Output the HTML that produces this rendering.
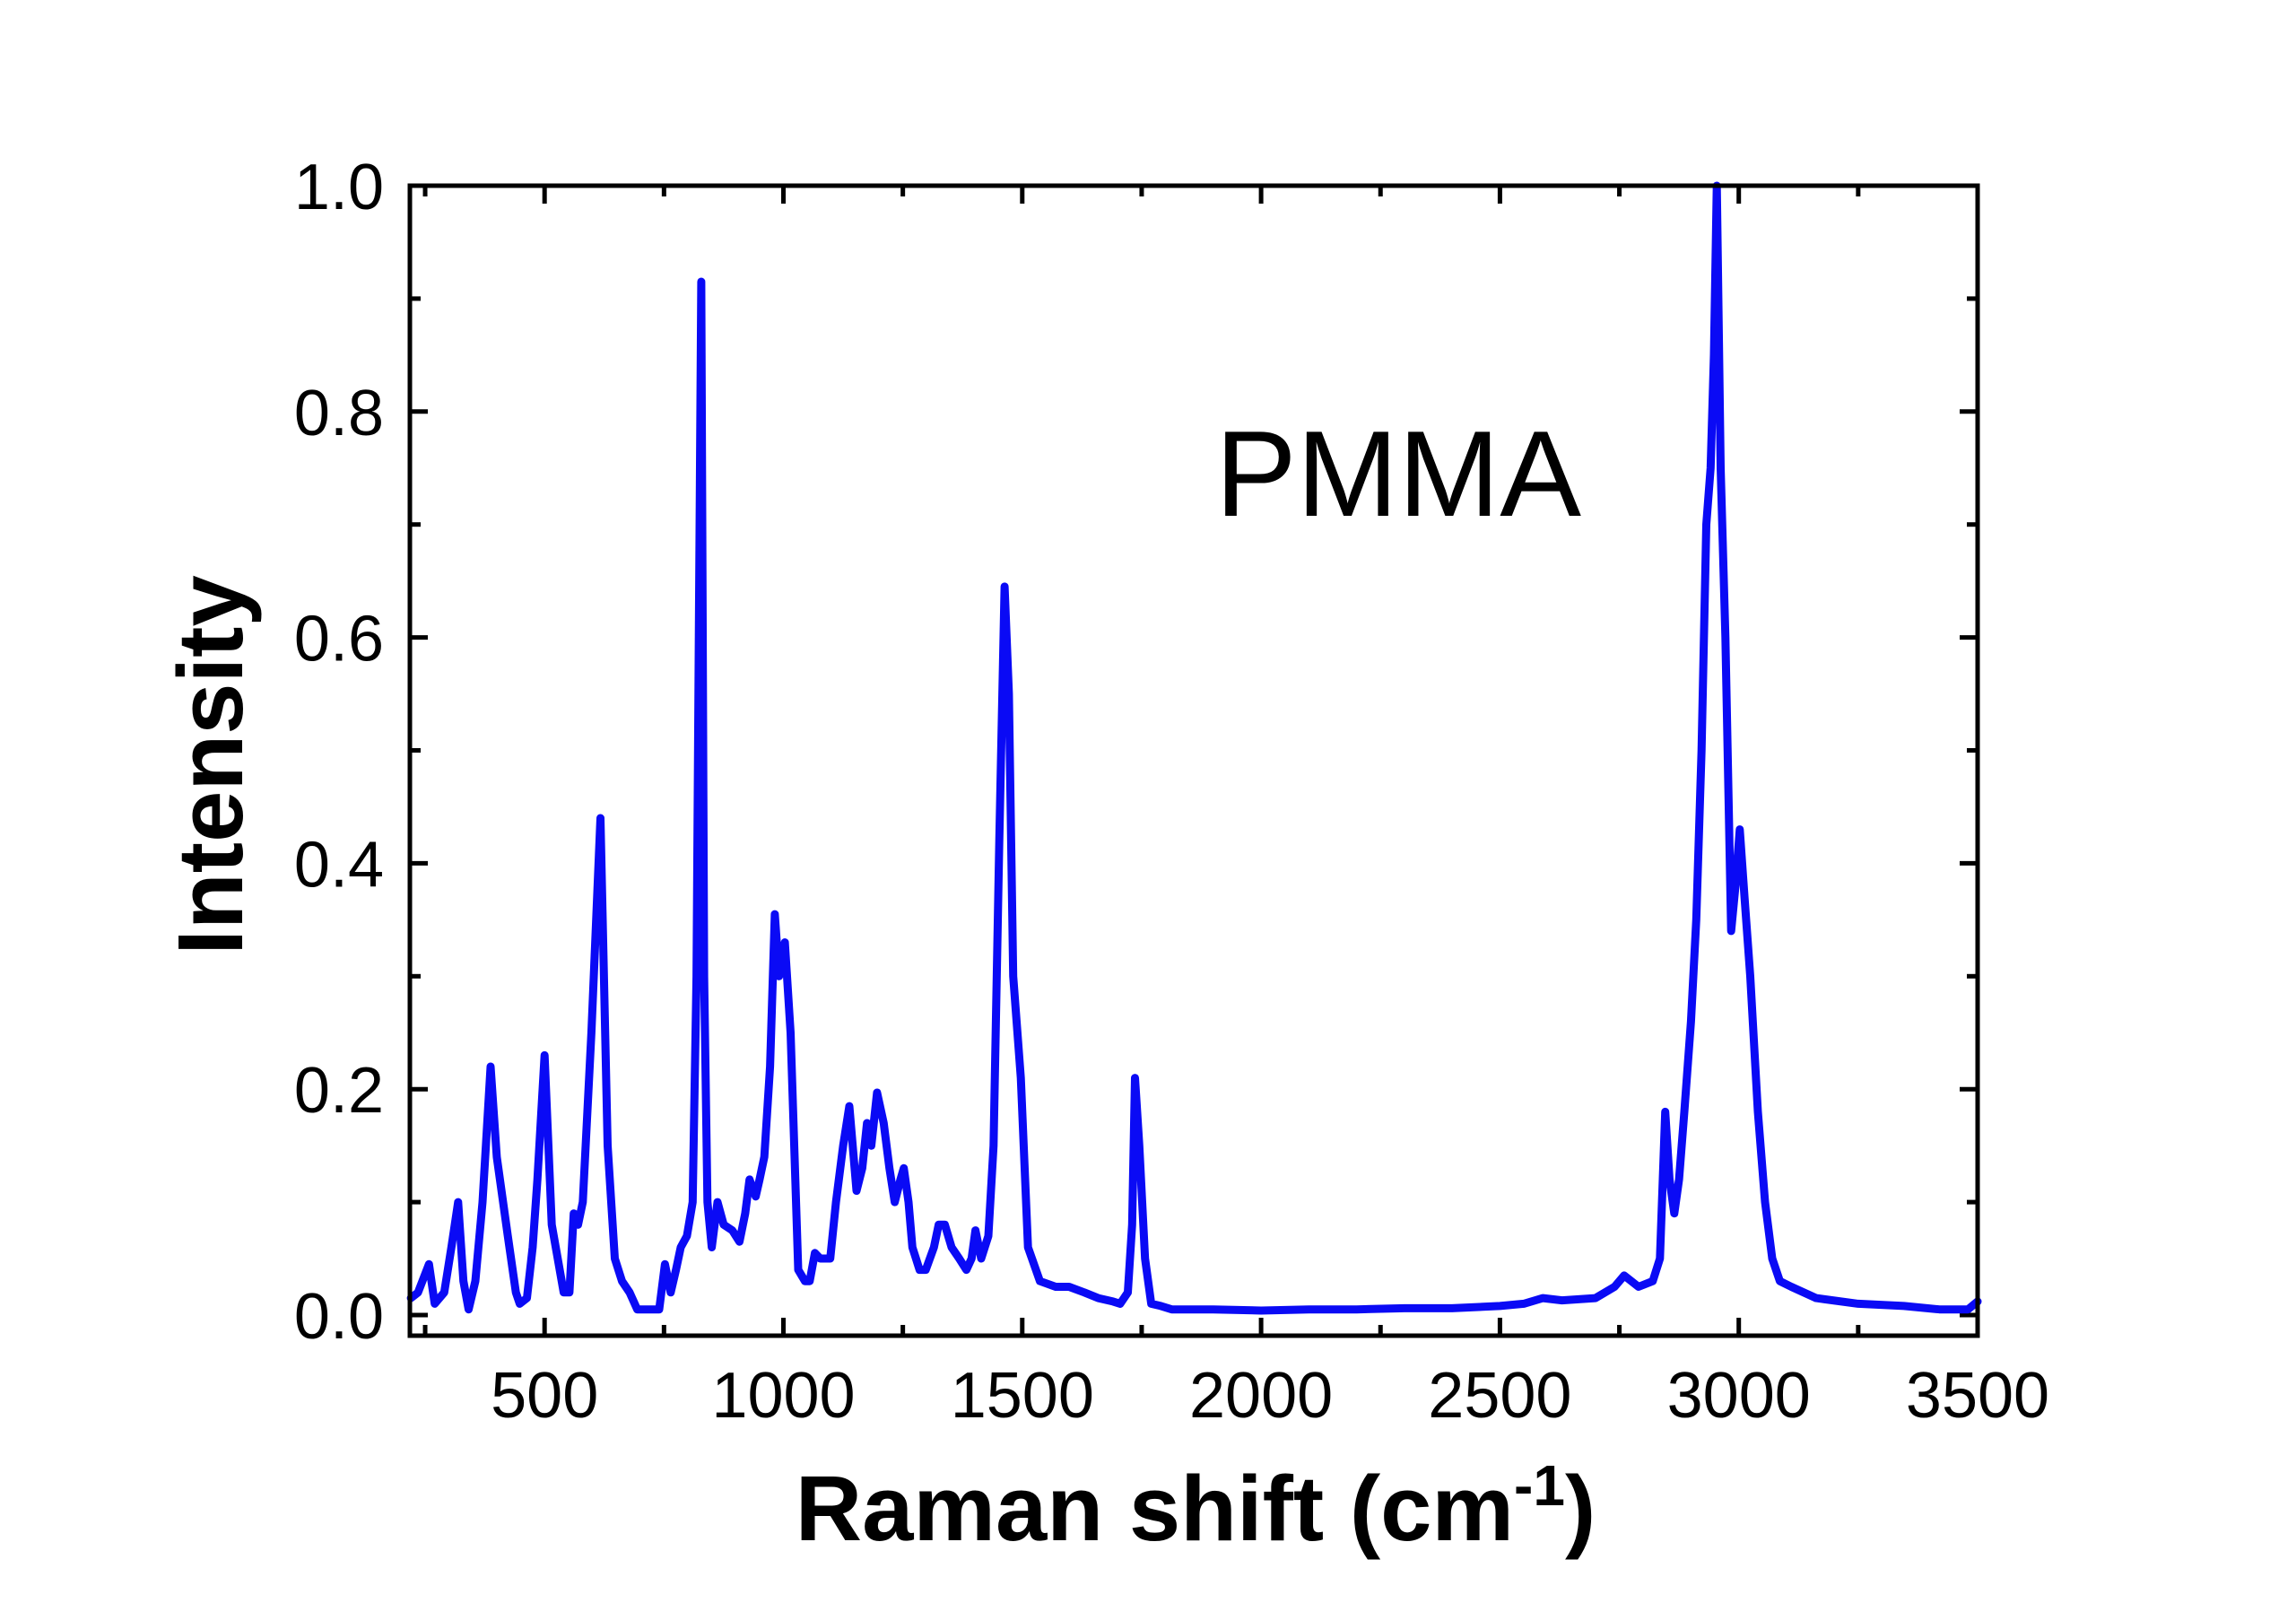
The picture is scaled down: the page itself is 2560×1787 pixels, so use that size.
<!DOCTYPE html>
<html><head><meta charset="utf-8"><style>
html,body{margin:0;padding:0;background:#fff}
svg{display:block}
text{font-family:"Liberation Sans",Arial,sans-serif;fill:#000}
</style></head><body>
<svg id="chart" width="2560" height="1787" viewBox="0 0 2560 1787" xmlns="http://www.w3.org/2000/svg">
<g id="ticks"></g>
<polyline id="series" fill="none" stroke="#0a0af5" stroke-width="9" stroke-linejoin="round" stroke-linecap="round"/>
<rect x="457" y="207" width="1748" height="1282" fill="none" stroke="#000" stroke-width="5"/>
<g id="labels"></g>
<text x="1355" y="575" font-size="136">PMMA</text>
<text x="1333" y="1717" font-size="103" font-weight="bold" text-anchor="middle">Raman shift (cm<tspan dy="-39" font-size="64">-1</tspan><tspan dy="39">)</tspan></text>
<text x="0" y="0" font-size="103" font-weight="bold" text-anchor="middle" transform="translate(270,853) rotate(-90)">Intensity</text>
</svg>
<script>
const wavenumbers=[220,235,258,270,290,305,319,330,341,355,370,387,400,423,440,448,463,475,485,500,515,540,552,561,570,580,598,617,632,647,662,678,694,709,725,740,752,764,775,785,798,810,818,828,834,841,850,862,875,893,908,920,929,942,950,960,972,982,991,1003,1015,1031,1045,1055,1066,1077,1088,1098,1110,1125,1138,1153,1165,1175,1184,1196,1210,1222,1233,1245,1252,1262,1270,1285,1298,1315,1325,1338,1352,1368,1383,1394,1402,1414,1429,1440,1452,1463,1472,1481,1497,1512,1537,1570,1598,1630,1659,1690,1705,1721,1730,1736,1745,1757,1770,1790,1813,1900,2000,2100,2200,2300,2400,2500,2550,2590,2630,2700,2740,2760,2790,2820,2835,2846,2855,2865,2875,2886,2900,2911,2922,2932,2941,2948,2954,2962,2972,2984,2993,3002,3012,3024,3040,3055,3070,3086,3110,3162,3250,3346,3420,3480,3500];
const intensities=[0.015,0.02,0.045,0.01,0.02,0.06,0.1,0.03,0.005,0.03,0.1,0.22,0.14,0.07,0.02,0.01,0.015,0.06,0.12,0.23,0.08,0.02,0.02,0.09,0.08,0.1,0.25,0.44,0.15,0.05,0.03,0.02,0.005,0.005,0.005,0.005,0.045,0.02,0.04,0.06,0.07,0.1,0.3,0.915,0.3,0.1,0.06,0.1,0.08,0.075,0.065,0.09,0.12,0.105,0.12,0.14,0.22,0.355,0.3,0.33,0.25,0.04,0.03,0.03,0.055,0.05,0.05,0.05,0.1,0.15,0.185,0.11,0.13,0.17,0.15,0.197,0.17,0.13,0.1,0.12,0.13,0.1,0.06,0.04,0.04,0.06,0.08,0.08,0.06,0.05,0.04,0.05,0.075,0.05,0.07,0.15,0.42,0.645,0.55,0.3,0.21,0.06,0.03,0.025,0.025,0.02,0.015,0.012,0.01,0.02,0.08,0.21,0.15,0.05,0.01,0.008,0.005,0.005,0.004,0.005,0.005,0.006,0.006,0.008,0.01,0.015,0.013,0.015,0.025,0.035,0.025,0.03,0.05,0.18,0.12,0.09,0.12,0.18,0.26,0.35,0.5,0.7,0.75,0.85,1.0,0.75,0.6,0.34,0.38,0.43,0.37,0.3,0.18,0.1,0.05,0.03,0.025,0.015,0.01,0.008,0.005,0.005,0.012];
const xTickValues=[500,1000,1500,2000,2500,3000,3500];
const yTickValues=[0.0,0.2,0.4,0.6,0.8,1.0];
const yTickLabels=["0.0","0.2","0.4","0.6","0.8","1.0"];

const X0=457,X1=2205,XMIN=218,XMAX=3500;
const Y0=1466,YSCALE=1259;
function xs(v){return X0+(v-XMIN)*(X1-X0)/(XMAX-XMIN);}
function ys(v){return Y0-v*YSCALE;}
const NS="http://www.w3.org/2000/svg";
const line=document.getElementById('series');
line.setAttribute('points',wavenumbers.map((w,i)=>xs(w).toFixed(1)+','+ys(intensities[i]).toFixed(1)).join(' '));
const tg=document.getElementById('ticks'),lg=document.getElementById('labels');
function addLine(x1,y1,x2,y2,name){const l=document.createElementNS(NS,'line');
l.setAttribute('x1',x1);l.setAttribute('y1',y1);l.setAttribute('x2',x2);l.setAttribute('y2',y2);
l.setAttribute('stroke','#000');l.setAttribute('stroke-width','5');


tg.appendChild(l);}
const TOP=207,BOT=1489;
for(let v=250;v<=3500;v+=250){const x=xs(v);if(x<X0+3||x>X1-3)continue;const len=(v%500===0)?20:12;
addLine(x,BOT,x,BOT-len,'x-tick');addLine(x,TOP,x,TOP+len,'x-tick-top');}
for(let k=0;k<=10;k++){const v=k/10;const y=ys(v);const len=(k%2===0)?20:12;
addLine(X0,y,X0+len,y,'y-tick');addLine(X1,y,X1-len,y,'y-tick-right');}
xTickValues.forEach(v=>{const t=document.createElementNS(NS,'text');t.setAttribute('x',xs(v));t.setAttribute('y',1580);
t.setAttribute('font-size','72');t.setAttribute('text-anchor','middle');t.textContent=String(v);


lg.appendChild(t);});
yTickValues.forEach((v,i)=>{const t=document.createElementNS(NS,'text');t.setAttribute('x',428);t.setAttribute('y',ys(v)+26);
t.setAttribute('font-size','72');t.setAttribute('text-anchor','end');t.textContent=yTickLabels[i];


lg.appendChild(t);});
</script>
</body></html>
